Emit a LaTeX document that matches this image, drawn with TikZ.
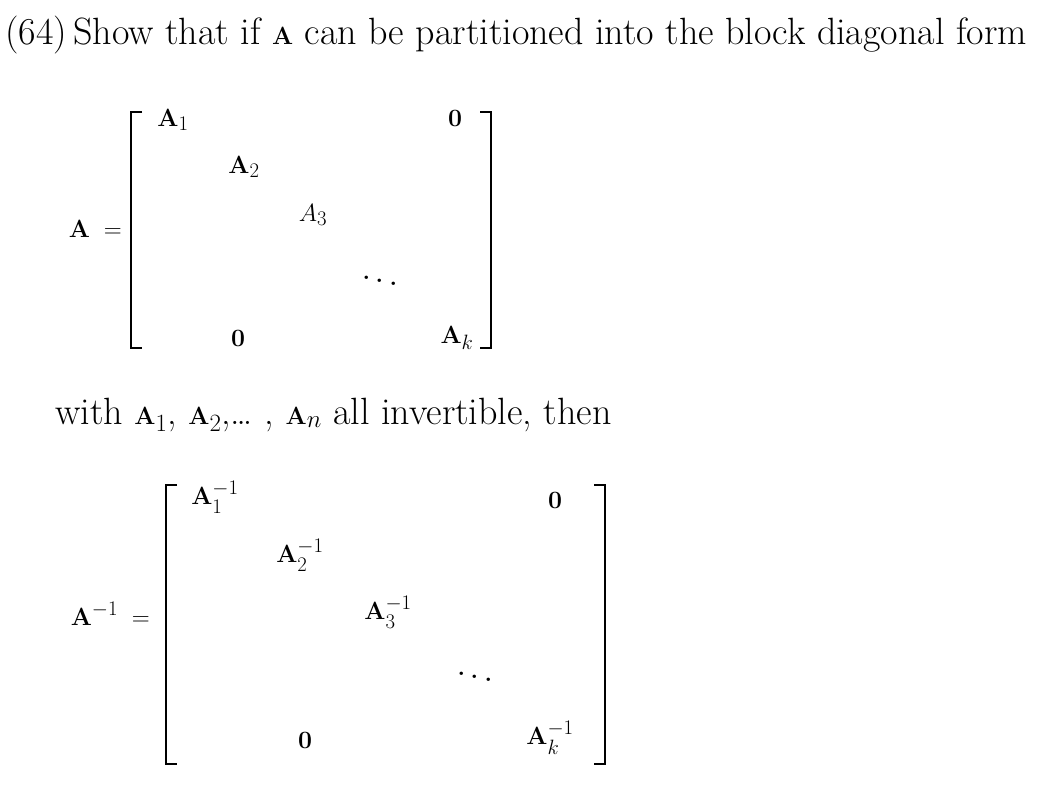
\documentclass[tikz,border=0pt]{standalone}
\usepackage{amsmath,bm}
\begin{document}
\begin{tikzpicture}[x=1pt,y=-1pt,
  t/.style={inner sep=0pt,font=\fontsize{38}{44}\selectfont},
  m/.style={inner sep=0pt,font=\fontsize{31}{36}\selectfont},
  dd/.style={inner sep=0pt,font=\fontsize{42}{48}\selectfont},
  br/.style={line width=2.2pt}]
\useasboundingbox (0,0) rectangle (1058,800);
\node[t,anchor=base west] (title) at (5,45) {(64)\,Show that if $\mathbf{A}$ can be partitioned into the block diagonal form};
% first matrix
\node[m,anchor=base east] (lhs1) at (122,237) {$\mathbf{A}\;=$};
\draw[br] (142,112) -- (131,112) -- (131,348) -- (142,348);
\draw[br] (480,112) -- (491,112) -- (491,348) -- (480,348);
\node[m] (a1) at (173,120) {$\mathbf{A}_1$};
\node[m] (z1) at (455,118) {$\mathbf{0}$};
\node[m] (a2) at (244,167) {$\mathbf{A}_2$};
\node[m] (a3) at (313,215) {$A_3$};
\node[dd] (d1) at (380,278) {$\ddots$};
\node[m] (z2) at (238,338) {$\mathbf{0}$};
\node[m] (ak) at (457,338) {$\mathbf{A}_k$};
\node[t,anchor=base west] (with) at (55,424) {with $\mathbf{A}_1$, $\mathbf{A}_2$,\dots\ , $\mathbf{A}_n$ all invertible, then};
% second matrix
\node[m,anchor=base east] (lhs2) at (150,625) {$\mathbf{A}^{-1}\;=$};
\draw[br] (177,485) -- (166,485) -- (166,764) -- (177,764);
\draw[br] (594,485) -- (605,485) -- (605,764) -- (594,764);
\node[m] (b1) at (215,497) {$\mathbf{A}_1^{-1}$};
\node[m] (y1) at (555,500) {$\mathbf{0}$};
\node[m] (b2) at (300,555) {$\mathbf{A}_2^{-1}$};
\node[m] (b3) at (388,612) {$\mathbf{A}_3^{-1}$};
\node[dd] (d2) at (475,674) {$\ddots$};
\node[m] (y2) at (305,740) {$\mathbf{0}$};
\node[m] (bk) at (550,738) {$\mathbf{A}_k^{-1}$};
\end{tikzpicture}
\end{document}
